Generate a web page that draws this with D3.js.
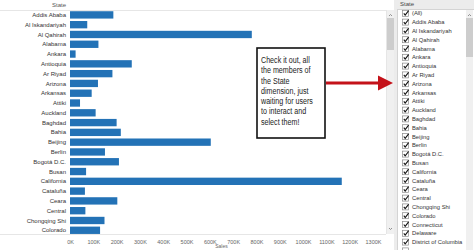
<!DOCTYPE html>
<html>
<head>
<meta charset="utf-8">
<script src="https://cdn.jsdelivr.net/npm/d3@7"></script>
<style>
  html, body { margin: 0; padding: 0; background: #fff; overflow: hidden; }
  svg { display: block; font-family: "Liberation Sans", Arial, sans-serif; }
</style>
</head>
<body>
<svg id="chart" width="474" height="250"></svg>
<script>
// Sales by State, Tableau-style bar view with a State filter card on the right.

const states = [
  "Addis Ababa", "Al Iskandariyah", "Al Qahirah", "Alabama", "Ankara", "Antioquia",
  "Ar Riyad", "Arizona", "Arkansas", "Attiki", "Auckland", "Baghdad", "Bahia",
  "Beijing", "Berlin", "Bogotá D.C.", "Busan", "California", "Cataluña", "Ceara",
  "Central", "Chongqing Shi", "Colorado"
];
const sales = [
  186000, 74000, 780000, 122000, 24000, 265000,
  182000, 120000, 93000, 43000, 110000, 200000, 218000,
  604000, 150000, 210000, 69000, 1166000, 64000, 203000,
  66000, 148000, 129000
];
const xTicks = [0, 100000, 200000, 300000, 400000, 500000, 600000, 700000,
  800000, 900000, 1000000, 1100000, 1200000, 1300000];
const filterItems = ["(All)"].concat(states,
  ["Connecticut", "Delaware", "District of Columbia"]);
const noteLines = [
  "Check it out, all", "the members of", "the State", "dimension, just",
  "waiting for users", "to interact and", "select them!"
];

const svg = d3.select("#chart");
const pane = { left: 70, right: 386, top: 10, bottom: 234 };

const x = d3.scaleLinear().domain([0, 1300000]).range([70, 373]);
const y = d3.scaleBand()
  .domain(states)
  .range([pane.top, pane.top + states.length * 9.79])
  .paddingInner(0.25)
  .paddingOuter(0.125);

// pane borders
svg.append("line").attr("x1", 0).attr("x2", pane.right)
  .attr("y1", pane.top + 0.5).attr("y2", pane.top + 0.5)
  .attr("stroke", "#e6e6e6");
svg.append("line").attr("x1", 0).attr("x2", pane.right)
  .attr("y1", pane.bottom + 0.5).attr("y2", pane.bottom + 0.5)
  .attr("stroke", "#e6e6e6");
svg.append("line").attr("x1", pane.right + 0.5).attr("x2", pane.right + 0.5)
  .attr("y1", pane.top).attr("y2", pane.bottom)
  .attr("stroke", "#e6e6e6");

svg.append("text")
  .attr("x", 66).attr("y", 7)
  .attr("text-anchor", "end")
  .attr("font-size", "6px")
  .attr("fill", "#555")
  .text("State");

svg.append("clipPath").attr("id", "paneClip")
  .append("rect")
  .attr("x", 0).attr("y", pane.top + 1)
  .attr("width", pane.right).attr("height", pane.bottom - pane.top - 1);

const body = svg.append("g").attr("clip-path", "url(#paneClip)");

body.selectAll("rect.bar")
  .data(states)
  .join("rect")
  .attr("class", "bar")
  .attr("x", x(0))
  .attr("y", (d) => y(d))
  .attr("width", (d, i) => x(sales[i]) - x(0))
  .attr("height", y.bandwidth())
  .attr("fill", "#2372b6");

body.selectAll("text.row")
  .data(states)
  .join("text")
  .attr("class", "row")
  .attr("x", 66)
  .attr("y", (d) => y(d) + y.bandwidth() / 2)
  .attr("dy", "0.35em")
  .attr("text-anchor", "end")
  .attr("font-size", "6px")
  .attr("fill", "#333")
  .text((d) => d);

// x axis
const axis = svg.append("g")
  .attr("transform", `translate(0,${pane.bottom + 2})`)
  .call(d3.axisBottom(x).tickValues(xTicks).tickSize(0).tickPadding(4)
    .tickFormat((d) => d / 1000 + "K"));
axis.select(".domain").remove();
axis.selectAll("text")
  .attr("font-size", "5.5px")
  .attr("font-family", "Liberation Sans, Arial, sans-serif")
  .attr("fill", "#666");

svg.append("text")
  .attr("x", (x(0) + x(1300000)) / 2).attr("y", 248)
  .attr("text-anchor", "middle")
  .attr("font-size", "5px")
  .attr("fill", "#666")
  .text("Sales");

// scrollbars
function scrollbar(sx, top, bottom, thumbTop, thumbBottom, showDown) {
  const g = svg.append("g");
  g.append("rect").attr("x", sx).attr("y", top).attr("width", 7)
    .attr("height", bottom - top).attr("fill", "#f0f0f0");
  g.append("rect").attr("x", sx).attr("y", thumbTop).attr("width", 7)
    .attr("height", thumbBottom - thumbTop).attr("fill", "#cdcdcd");
  g.append("path")
    .attr("d", `M${sx + 2},${top + 6} L${sx + 3.5},${top + 4.5} L${sx + 5},${top + 6}`)
    .attr("fill", "none").attr("stroke", "#777").attr("stroke-width", 0.8);
  if (showDown) {
    g.append("path")
      .attr("d", `M${sx + 2},${bottom - 6} L${sx + 3.5},${bottom - 4.5} L${sx + 5},${bottom - 6}`)
      .attr("fill", "none").attr("stroke", "#777").attr("stroke-width", 0.8);
  }
}
scrollbar(387, 10, 234, 18, 50, true);

// filter card
svg.append("rect").attr("x", 394).attr("y", 0).attr("width", 80).attr("height", 250)
  .attr("fill", "#ececec");
svg.append("text")
  .attr("x", 400).attr("y", 6)
  .attr("font-size", "6px")
  .attr("fill", "#444")
  .text("State");
svg.append("rect").attr("x", 397.5).attr("y", 9.5).attr("width", 77).attr("height", 245)
  .attr("fill", "#fff").attr("stroke", "#d4d4d4");
scrollbar(466, 10, 260, 18, 57, false);

const fy = d3.scaleLinear().domain([0, 1]).range([13.3, 22.1]);
const items = svg.append("g").selectAll("g")
  .data(filterItems)
  .join("g")
  .attr("transform", (d, i) => `translate(0,${fy(i)})`);
items.append("rect")
  .attr("x", 402.5).attr("y", -3).attr("width", 6).attr("height", 6)
  .attr("fill", "#fff").attr("stroke", "#888").attr("stroke-width", 0.7);
items.append("path")
  .attr("d", "M403.8,0 L405.2,1.8 L408.6,-2.6")
  .attr("fill", "none").attr("stroke", "#111").attr("stroke-width", 1.1);
items.append("text")
  .attr("x", 412).attr("dy", "0.35em")
  .attr("font-size", "5.8px")
  .attr("fill", "#333")
  .text((d) => d);
// next checkbox peeking in at the bottom edge
svg.append("rect")
  .attr("x", 402.5).attr("y", fy(filterItems.length) - 3).attr("width", 6).attr("height", 6)
  .attr("fill", "#fff").attr("stroke", "#888").attr("stroke-width", 0.7);

// annotation
const note = svg.append("g");
note.append("rect")
  .attr("x", 257).attr("y", 48).attr("width", 68).attr("height", 90)
  .attr("fill", "#fff").attr("stroke", "#111").attr("stroke-width", 1.6);
note.append("g")
  .attr("transform", "translate(261,0) scale(0.86,1)")
  .selectAll("text")
  .data(noteLines)
  .join("text")
  .attr("x", 0)
  .attr("y", (d, i) => 63 + i * 10.3)
  .attr("font-size", "8.3px")
  .attr("fill", "#222")
  .text((d) => d);
note.append("line")
  .attr("x1", 326).attr("x2", 381).attr("y1", 83).attr("y2", 83)
  .attr("stroke", "#c4121a").attr("stroke-width", 3.2);
note.append("path")
  .attr("d", "M378,75.5 L393,83 L378,90.5 Z")
  .attr("fill", "#c4121a");
</script>
</body>
</html>
